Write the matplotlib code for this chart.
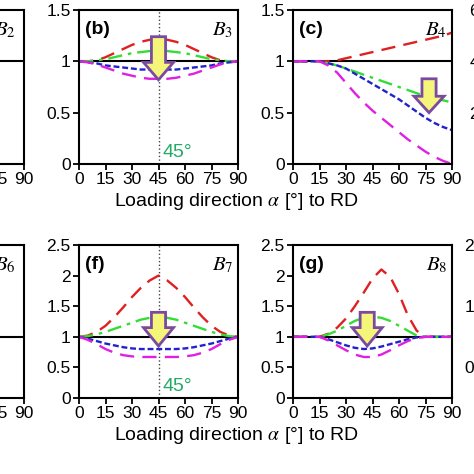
import numpy as np
import matplotlib.pyplot as plt
from matplotlib.patches import FancyArrow

plt.rcParams['font.family'] = ['Liberation Sans', 'DejaVu Sans']
plt.rcParams['mathtext.fontset'] = 'stix'

alpha = np.arange(0, 95, 5)

b_red = [1, 1, 1.01, 1.04, 1.08, 1.12, 1.16, 1.19, 1.21, 1.21, 1.21, 1.19, 1.16, 1.12, 1.08, 1.04, 1.01, 1, 1]
b_green = [1, 1, 1.01, 1.02, 1.04, 1.06, 1.08, 1.09, 1.10, 1.10, 1.10, 1.09, 1.08, 1.06, 1.04, 1.02, 1.01, 1, 1]
b_blue = [1, 0.99, 0.98, 0.96, 0.95, 0.94, 0.93, 0.92, 0.92, 0.92, 0.92, 0.92, 0.93, 0.94, 0.95, 0.96, 0.98, 0.99, 1]
b_mag = [1, 0.99, 0.97, 0.94, 0.91, 0.88, 0.86, 0.84, 0.83, 0.83, 0.83, 0.84, 0.86, 0.88, 0.91, 0.94, 0.97, 0.99, 1]

c_red = [1, 1, 1, 1, 1, 1.01, 1.03, 1.05, 1.07, 1.09, 1.11, 1.13, 1.15, 1.17, 1.19, 1.21, 1.23, 1.25, 1.28]
c_green = [1, 1, 1, 1, 0.98, 0.96, 0.93, 0.90, 0.87, 0.84, 0.81, 0.78, 0.75, 0.72, 0.69, 0.66, 0.64, 0.62, 0.60]
c_blue = [1, 1, 1, 1, 0.98, 0.96, 0.93, 0.88, 0.83, 0.78, 0.73, 0.68, 0.63, 0.57, 0.51, 0.45, 0.40, 0.36, 0.33]
c_mag = [1, 1, 1, 1, 0.96, 0.89, 0.79, 0.69, 0.60, 0.52, 0.45, 0.38, 0.31, 0.24, 0.18, 0.12, 0.07, 0.03, 0.0]

f_red = [1, 1.02, 1.08, 1.18, 1.32, 1.48, 1.65, 1.80, 1.92, 2.0, 1.92, 1.80, 1.65, 1.48, 1.32, 1.18, 1.08, 1.02, 1]
f_green = [1, 1.01, 1.04, 1.08, 1.13, 1.18, 1.23, 1.28, 1.31, 1.33, 1.31, 1.28, 1.23, 1.18, 1.13, 1.08, 1.04, 1.01, 1]
f_blue = [1, 0.97, 0.93, 0.89, 0.86, 0.83, 0.81, 0.80, 0.80, 0.80, 0.80, 0.80, 0.81, 0.83, 0.86, 0.89, 0.93, 0.97, 1]
f_mag = [1, 0.95, 0.88, 0.80, 0.74, 0.70, 0.68, 0.67, 0.67, 0.67, 0.67, 0.67, 0.68, 0.70, 0.74, 0.80, 0.88, 0.95, 1]

g_red = [1, 1, 1, 1, 1.05, 1.15, 1.30, 1.50, 1.72, 1.95, 2.10, 1.98, 1.70, 1.35, 1.10, 1.0, 1, 1, 1]
g_green = [1, 1, 1, 1, 1.04, 1.10, 1.18, 1.26, 1.31, 1.33, 1.31, 1.26, 1.18, 1.10, 1.02, 1, 1, 1, 1]
g_blue = [1, 1, 1, 1, 0.96, 0.91, 0.86, 0.82, 0.80, 0.81, 0.84, 0.88, 0.92, 0.96, 0.99, 1, 1, 1, 1]
g_mag = [1, 1, 1, 1, 0.94, 0.86, 0.78, 0.71, 0.67, 0.67, 0.71, 0.78, 0.86, 0.93, 0.98, 1, 1, 1, 1]

W = 474.0
fig = plt.figure(figsize=(4.74, 4.74), dpi=100)

def make_ax(x0, top, bottom, ylim, yticks, yticklabels, one=1):
    ax = fig.add_axes([x0 / W, 1 - bottom / W, 159 / W, (bottom - top) / W])
    ax.set_xlim(0, 90)
    ax.set_ylim(*ylim)
    ax.set_xticks(range(0, 91, 15))
    ax.set_yticks(yticks)
    ax.set_yticklabels(yticklabels)
    ax.tick_params(labelsize=12.5, width=1.3, length=4, pad=2)
    for s in ax.spines.values():
        s.set_linewidth(1.5)
    ax.axhline(one, color='black', lw=1.5, zorder=1)
    return ax

def curves(ax, r, g, b, m):
    ax.plot(alpha, r, color='#e02020', lw=1.7, dashes=(6, 3.5))
    ax.plot(alpha, g, color='#33dd33', lw=1.7, dashes=(6, 2.5, 1.5, 2.5))
    ax.plot(alpha, b, color='#2222cc', lw=1.7, dashes=(2.5, 1.2))
    ax.plot(alpha, m, color='#e020e0', lw=1.7, dashes=(6, 3.5))

def arrow(ax, x, y0, y1, hl):
    ax.add_patch(FancyArrow(x, y0, 0, y1 - y0, width=8, head_width=17, head_length=hl,
                            length_includes_head=True, facecolor='#f5f57a',
                            edgecolor='#7a4aa0', lw=2, zorder=5))

rows = [(10, 164, (0, 1.5), [0, 0.5, 1, 1.5], ['0', '0.5', '1', '1.5']),
        (245, 398, (0, 2.5), [0, 0.5, 1, 1.5, 2, 2.5], ['0', '0.5', '1', '1.5', '2', '2.5'])]

for r, (top, bottom, ylim, yt, ytl) in enumerate(rows):
    # left (partly visible) panel
    axl = make_ax(79 - 214, top, bottom, ylim, yt, ytl)
    axl.text(0.95, 0.93, '$B_2$' if r == 0 else '$B_6$', transform=axl.transAxes,
             ha='right', va='top', fontsize=15)
    # right (partly visible) panel
    if r == 0:
        make_ax(497, top, bottom, (0, 60), [0, 20, 40, 60], ['0', '20', '40', '60'], one=40)
    else:
        make_ax(497, top, bottom, ylim, yt, ytl)
    axm = make_ax(79, top, bottom, ylim, yt, ytl)
    axc = make_ax(79 + 214, top, bottom, ylim, yt, ytl)
    for ax, lab, B in [(axm, '(b)' if r == 0 else '(f)', '$B_3$' if r == 0 else '$B_7$'),
                       (axc, '(c)' if r == 0 else '(g)', '$B_4$' if r == 0 else '$B_8$')]:
        ax.text(0.04, 0.93, lab, transform=ax.transAxes, ha='left', va='top',
                fontsize=14, fontweight='bold')
        ax.text(0.97, 0.93, B, transform=ax.transAxes, ha='right', va='top', fontsize=15)
    axm.axvline(45, color='#444444', lw=1, ls=':')
    axm.text(47, 0.02 * ylim[1], '45°', color='#22aa66', fontsize=14, va='bottom')
    fig.text(0.5, 1 - (bottom + 42) / W, r'Loading direction $\alpha$ [°] to RD',
             ha='center', fontsize=14)
    if r == 0:
        curves(axm, b_red, b_green, b_blue, b_mag)
        curves(axc, c_red, c_green, c_blue, c_mag)
        arrow(axm, 45, 1.24, 0.82, 0.17)
        arrow(axc, 77, 0.83, 0.5, 0.16)
    else:
        curves(axm, f_red, f_green, f_blue, f_mag)
        curves(axc, g_red, g_green, g_blue, g_mag)
        arrow(axm, 45, 1.4, 0.85, 0.3)
        arrow(axc, 42, 1.4, 0.85, 0.3)

fig.savefig('out.png', dpi=100)
